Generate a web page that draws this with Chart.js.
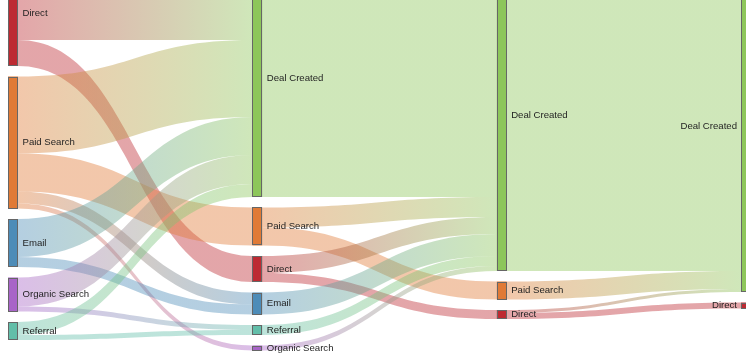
<!DOCTYPE html>
<html>
<head>
<meta charset="utf-8">
<script src="https://cdn.jsdelivr.net/npm/chart.js@4.4.0/dist/chart.umd.min.js"></script>
<style>
  html, body { margin: 0; padding: 0; background: #ffffff; }
  #wrap { position: relative; width: 746px; height: 361px; }
</style>
</head>
<body>
<div id="wrap"><canvas id="c"></canvas></div>
<script>
// ---- data ----
const column0 = ['Direct', 'Paid Search', 'Email', 'Organic Search', 'Referral'];
const column1 = ['Deal Created', 'Paid Search', 'Direct', 'Email', 'Referral', 'Organic Search'];
const column2 = ['Deal Created', 'Paid Search', 'Direct'];
const column3 = ['Deal Created', 'Direct'];

// flows: "label@column"
const flowFrom = [
  'Direct@0', 'Direct@0',
  'Paid Search@0', 'Paid Search@0', 'Paid Search@0', 'Paid Search@0',
  'Email@0', 'Email@0',
  'Organic Search@0', 'Organic Search@0',
  'Referral@0', 'Referral@0',
  'Deal Created@1',
  'Paid Search@1', 'Paid Search@1',
  'Direct@1', 'Direct@1',
  'Email@1', 'Referral@1', 'Organic Search@1',
  'Deal Created@2',
  'Paid Search@2',
  'Direct@2', 'Direct@2'
];
const flowTo = [
  'Deal Created@1', 'Direct@1',
  'Deal Created@1', 'Paid Search@1', 'Email@1', 'Organic Search@1',
  'Deal Created@1', 'Email@1',
  'Deal Created@1', 'Referral@1',
  'Deal Created@1', 'Referral@1',
  'Deal Created@2',
  'Deal Created@2', 'Paid Search@2',
  'Deal Created@2', 'Direct@2',
  'Deal Created@2', 'Deal Created@2', 'Deal Created@2',
  'Deal Created@3',
  'Deal Created@3',
  'Deal Created@3', 'Direct@3'
];
const flowValue = [
  80, 26,
  77, 38, 12, 5,
  38, 10,
  29, 5,
  13, 5,
  237,
  20, 18,
  17, 9,
  22, 10, 5,
  311,
  18,
  3, 6
];

const colors = {
  'Direct': '#bd2a32',
  'Paid Search': '#e07a36',
  'Email': '#4d8cb8',
  'Organic Search': '#a864c8',
  'Referral': '#62bea9',
  'Deal Created': '#8dc65a'
};

// ---- helpers ----
function rgba(hex, a) {
  const n = parseInt(hex.slice(1), 16);
  return `rgba(${(n >> 16) & 255},${(n >> 8) & 255},${n & 255},${a})`;
}

const columns = [column0, column1, column2, column3];
const nodeGap = 10.5;
const nodeWidth = 10;
const flowAlpha = 0.42;

function buildLayout() {
  const nodes = {};
  columns.forEach((col, ci) => {
    col.forEach((label, ri) => {
      nodes[label + '@' + ci] = { label, col: ci, row: ri, inV: 0, outV: 0, ins: [], outs: [] };
    });
  });
  flowFrom.forEach((f, i) => {
    const s = nodes[f], t = nodes[flowTo[i]];
    const link = { s, t, v: flowValue[i] };
    s.outs.push(link); t.ins.push(link);
    s.outV += flowValue[i]; t.inV += flowValue[i];
  });
  columns.forEach((col, ci) => {
    let y = 0;
    col.forEach(label => {
      const n = nodes[label + '@' + ci];
      n.v = Math.max(n.inV, n.outV);
      n.y0 = y; n.y1 = y + n.v;
      y = n.y1 + nodeGap;
    });
  });
  Object.values(nodes).forEach(n => {
    n.outs.sort((a, b) => a.t.row - b.t.row);
    n.ins.sort((a, b) => a.s.row - b.s.row);
    let y = n.y0;
    n.outs.forEach(l => { l.sy0 = y; y += l.v; l.sy1 = y; });
    y = n.y0;
    n.ins.forEach(l => { l.ty0 = y; y += l.v; l.ty1 = y; });
  });
  const links = [];
  Object.values(nodes).forEach(n => n.outs.forEach(l => links.push(l)));
  return { nodes, links };
}

const layout = buildLayout();

const sankeyPlugin = {
  id: 'sankeyDraw',
  afterDatasetsDraw(chart) {
    const ctx = chart.ctx;
    const xs = chart.scales.x, ys = chart.scales.y;
    ctx.save();
    // flows
    layout.links.forEach(l => {
      const x0 = xs.getPixelForValue(l.s.col) + nodeWidth;
      const x1 = xs.getPixelForValue(l.t.col);
      const a0 = ys.getPixelForValue(l.sy0), a1 = ys.getPixelForValue(l.sy1);
      const b0 = ys.getPixelForValue(l.ty0), b1 = ys.getPixelForValue(l.ty1);
      const cx = (x0 + x1) / 2;
      const g = ctx.createLinearGradient(x0, 0, x1, 0);
      g.addColorStop(0, rgba(colors[l.s.label], flowAlpha));
      g.addColorStop(1, rgba(colors[l.t.label], flowAlpha));
      ctx.fillStyle = g;
      ctx.beginPath();
      ctx.moveTo(x0, a0);
      ctx.bezierCurveTo(cx, a0, cx, b0, x1, b0);
      ctx.lineTo(x1, b1);
      ctx.bezierCurveTo(cx, b1, cx, a1, x0, a1);
      ctx.closePath();
      ctx.fill();
    });
    // nodes
    Object.values(layout.nodes).forEach(n => {
      const x = xs.getPixelForValue(n.col);
      const y0 = ys.getPixelForValue(n.y0), y1 = ys.getPixelForValue(n.y1);
      ctx.fillStyle = colors[n.label];
      ctx.fillRect(x, y0, nodeWidth, y1 - y0);
      ctx.strokeStyle = '#666666';
      ctx.lineWidth = 1;
      ctx.strokeRect(Math.round(x) + 0.5, Math.round(y0) + 0.5, nodeWidth - 1, Math.round(y1 - y0) - 1);
    });
    // labels
    ctx.font = '9.6px "Liberation Sans", Arial, sans-serif';
    ctx.fillStyle = '#1f1f1f';
    ctx.textBaseline = 'middle';
    const last = columns.length - 1;
    Object.values(layout.nodes).forEach(n => {
      const x = xs.getPixelForValue(n.col);
      const yc = (ys.getPixelForValue(n.y0) + ys.getPixelForValue(n.y1)) / 2;
      if (n.col === last) {
        ctx.textAlign = 'right';
        ctx.fillText(n.label, x - 4, yc);
      } else {
        ctx.textAlign = 'left';
        ctx.fillText(n.label, x + nodeWidth + 4.5, yc);
      }
    });
    ctx.restore();
  }
};

new Chart(document.getElementById('c'), {
  type: 'scatter',
  data: { datasets: [{ data: [], pointRadius: 0 }] },
  options: {
    responsive: true,
    maintainAspectRatio: false,
    animation: false,
    events: [],
    layout: { padding: { left: 8, right: 5, top: 0, bottom: 0 } },
    plugins: { legend: { display: false }, tooltip: { enabled: false } },
    scales: {
      x: { type: 'linear', min: 0, max: 3, display: false },
      y: { type: 'linear', min: 40, max: 401, reverse: true, display: false }
    }
  },
  plugins: [sankeyPlugin]
});
</script>
</body>
</html>
